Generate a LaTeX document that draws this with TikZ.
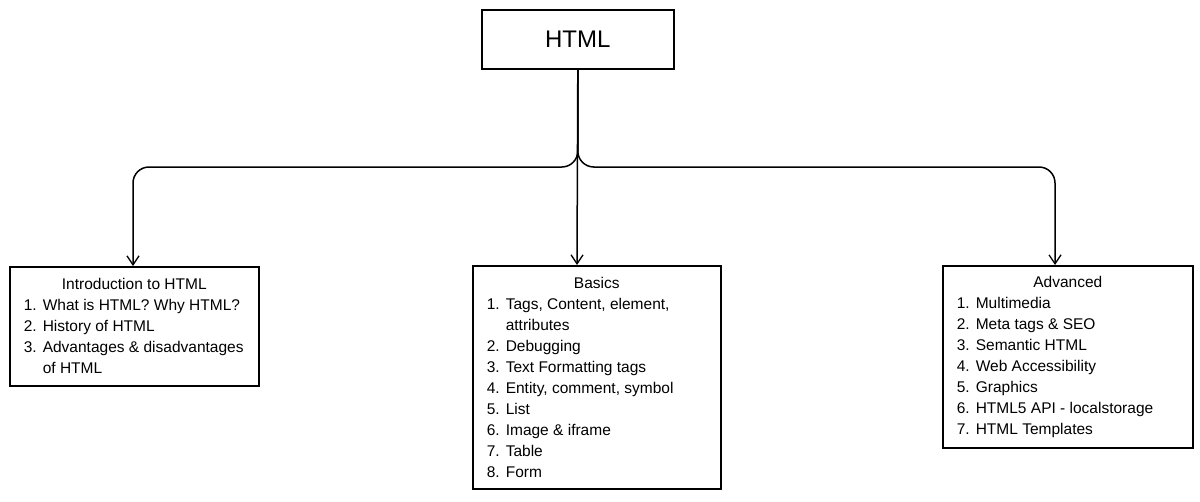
\documentclass[tikz,border=0pt]{standalone}
\usepackage{fontspec}
\setmainfont{Liberation Sans}
\usetikzlibrary{arrows.meta}
\newcommand\itm[2]{\par\hangindent=21pt\hangafter=1\noindent\makebox[21pt][l]{\hspace{2pt}#1}#2}
\newcommand\brk{\hfil\break}
\newenvironment{boxtext}[1]{\begin{minipage}{#1}\raggedright\hyphenpenalty=10000\exhyphenpenalty=10000
  \fontsize{15.5}{21}\selectfont}{\end{minipage}}
\tikzset{
  box/.style={draw=black, line width=1.6pt, inner xsep=12pt, inner ysep=0pt, anchor=north west},
  conn/.style={draw=black, line width=1.5pt, rounded corners=16pt,
    -{Straight Barb[length=9pt,width=12pt,line width=1.3pt]}},
}
\begin{document}
\begin{tikzpicture}[x=1pt,y=-1pt]
\useasboundingbox[fill=white] (0,0) rectangle (1200,501);
\node[draw=black, line width=1.6pt, minimum width=192pt, minimum height=59pt, anchor=north west,
  font=\fontsize{24}{28}\selectfont] (html) at (481,9) {HTML};

\node[box, minimum width=249pt, minimum height=119pt] (intro) at (9,266) {%
  \begin{boxtext}{225pt}
  {\centering Introduction to HTML\par}
  \itm{1.}{What is HTML? Why HTML?}
  \itm{2.}{History of HTML}
  \itm{3.}{Advantages \& disadvantages\brk of HTML}
  \end{boxtext}};

\node[box, minimum width=248pt, minimum height=223pt] (basics) at (472,265) {%
  \begin{boxtext}{224pt}
  {\centering Basics\par}
  \itm{1.}{Tags, Content, element,\brk attributes}
  \itm{2.}{Debugging}
  \itm{3.}{Text Formatting tags}
  \itm{4.}{Entity, comment, symbol}
  \itm{5.}{List}
  \itm{6.}{Image \& iframe}
  \itm{7.}{Table}
  \itm{8.}{Form}
  \end{boxtext}};

\node[box, minimum width=250pt, minimum height=182pt] (adv) at (942,265) {%
  \begin{boxtext}{226pt}
  {\centering Advanced\par}
  \itm{1.}{Multimedia}
  \itm{2.}{Meta tags \& SEO}
  \itm{3.}{Semantic HTML}
  \itm{4.}{Web Accessibility}
  \itm{5.}{Graphics}
  \itm{6.}{HTML5 API - localstorage}
  \itm{7.}{HTML Templates}
  \end{boxtext}};

\coordinate (j) at (577,167);
\coordinate (lt) at (133,266);
\coordinate (mt) at (577,265);
\coordinate (rt) at (1055,265);

\draw[conn] (html.south) -- (html.south |- j) -| (lt);
\draw[conn] (html.south) -- (html.south |- j) -| (rt);
\draw[conn] (html.south) -- (mt);
\end{tikzpicture}
\end{document}
